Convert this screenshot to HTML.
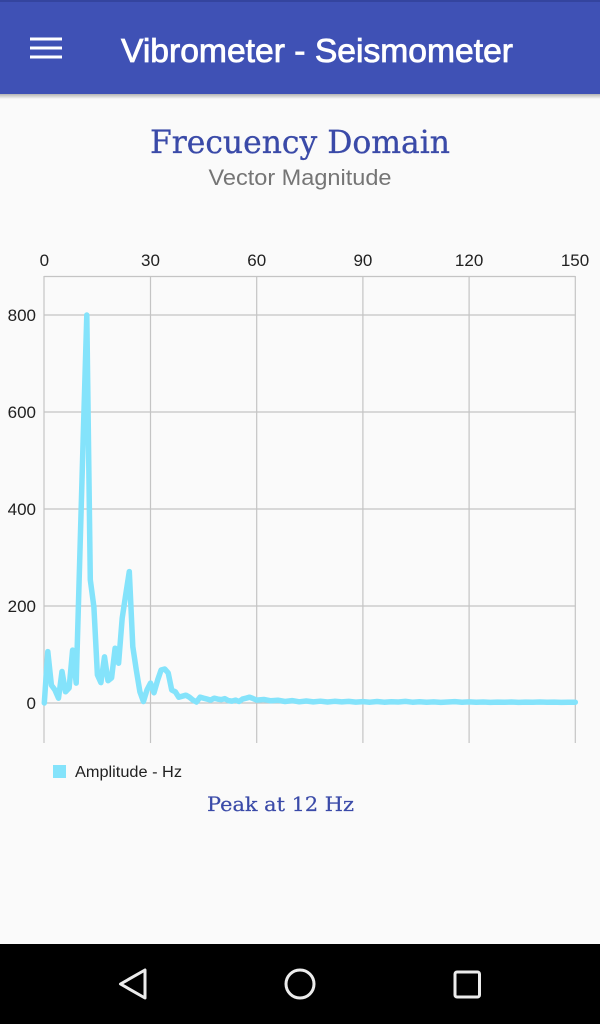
<!DOCTYPE html>
<html>
<head>
<meta charset="utf-8">
<style>
html,body{margin:0;padding:0;width:600px;height:1024px;overflow:hidden;background:#fafafa;}
svg{display:block;}
</style>
</head>
<body>
<svg width="600" height="1024" viewBox="0 0 600 1024" xmlns="http://www.w3.org/2000/svg">
  <defs>
    <linearGradient id="sh" x1="0" y1="0" x2="0" y2="1">
      <stop offset="0" stop-color="#000" stop-opacity="0.28"/>
      <stop offset="1" stop-color="#000" stop-opacity="0"/>
    </linearGradient>
  </defs>
  <rect x="0" y="0" width="600" height="1024" fill="#fafafa"/>
  <!-- App bar -->
  <rect x="0" y="94" width="600" height="5" fill="url(#sh)"/>
  <rect x="0" y="0" width="600" height="94" fill="#3f51b5"/>
  <rect x="0" y="0" width="600" height="2" fill="#34449e"/>
  <rect x="30" y="37.5" width="32" height="3" fill="#ffffff"/>
  <rect x="30" y="46.5" width="32" height="3" fill="#ffffff"/>
  <rect x="30" y="55.5" width="32" height="3" fill="#ffffff"/>
  <text x="121" y="62" font-family="Liberation Sans, sans-serif" font-size="33.5" fill="#ffffff" stroke="#ffffff" stroke-width="0.8" textLength="392" lengthAdjust="spacingAndGlyphs">Vibrometer - Seismometer</text>

  <!-- Titles -->
  <text x="300" y="153" text-anchor="middle" font-family="DejaVu Serif, Liberation Serif, serif" font-size="32" fill="#3a4aa8" stroke="#3a4aa8" stroke-width="0.3" textLength="300" lengthAdjust="spacingAndGlyphs">Frecuency Domain</text>
  <text x="300" y="185" text-anchor="middle" font-family="Liberation Sans, sans-serif" font-size="22" fill="#757575" textLength="183" lengthAdjust="spacingAndGlyphs">Vector Magnitude</text>

  <!-- Grid -->
  <g stroke="#c4c4c4" stroke-width="1.2" fill="none">
    <line x1="44" y1="276" x2="44" y2="743"/>
    <line x1="150.5" y1="276" x2="150.5" y2="743"/>
    <line x1="256.7" y1="276" x2="256.7" y2="743"/>
    <line x1="362.9" y1="276" x2="362.9" y2="743"/>
    <line x1="469.1" y1="276" x2="469.1" y2="743"/>
    <line x1="575.3" y1="276" x2="575.3" y2="743"/>
    <line x1="44" y1="276.5" x2="575.3" y2="276.5"/>
    <line x1="44" y1="315" x2="575.3" y2="315"/>
    <line x1="44" y1="412" x2="575.3" y2="412"/>
    <line x1="44" y1="509" x2="575.3" y2="509"/>
    <line x1="44" y1="606" x2="575.3" y2="606"/>
    <line x1="44" y1="703" x2="575.3" y2="703"/>
  </g>

  <!-- Tick labels -->
  <g font-family="Liberation Sans, sans-serif" font-size="17" fill="#212121">
    <text x="44.3" y="266" text-anchor="middle">0</text>
    <text x="150.5" y="266" text-anchor="middle">30</text>
    <text x="256.7" y="266" text-anchor="middle">60</text>
    <text x="362.9" y="266" text-anchor="middle">90</text>
    <text x="469.1" y="266" text-anchor="middle">120</text>
    <text x="575" y="266" text-anchor="middle">150</text>
    <text x="36" y="321" text-anchor="end">800</text>
    <text x="36" y="418" text-anchor="end">600</text>
    <text x="36" y="515" text-anchor="end">400</text>
    <text x="36" y="612" text-anchor="end">200</text>
    <text x="36" y="709" text-anchor="end">0</text>
  </g>

  <!-- Series -->
  <polyline fill="none" stroke="#84e3fb" stroke-width="5.5" stroke-linejoin="round" stroke-linecap="round"
    points="44.3,703 47.8,651.6 51.4,685.1 54.9,689.9 58.5,698.2 62.0,671.5 65.5,691.8 69.1,688.0 72.6,650.1 76.2,683.1 79.7,560.4 83.2,437.7 86.8,315 90.3,579.8 93.9,607.0 97.4,674.9 100.9,682.6 104.5,656.9 108.0,680.7 111.6,677.8 115.1,648.2 118.6,663.2 122.2,618.1 125.7,594.8 129.3,571.6 132.8,646.7 136.3,670.0 139.9,691.8 143.4,701.5 147.0,689.9 150.5,683.1 154.0,692.8 157.6,680.2 161.1,670.0 164.7,669.0 168.2,672.9 171.7,689.9 175.3,691.8 178.8,697.2 182.4,696.2 185.9,695.2 189.4,697.2 193.0,700.1 196.5,702.0 200.1,697.2 203.6,698.2 207.1,699.1 210.7,700.1 214.2,698.2 217.8,699.1 221.3,699.6 224.8,698.6 228.4,700.6 231.9,701.1 235.5,700.1 239.0,701.5 242.5,699.1 246.1,698.2 249.6,697.2 253.2,698.6 256.7,700.1 263.8,699.5 270.9,700.8 277.9,700.2 285.0,701.5 292.1,700.6 299.2,701.8 306.3,701.0 313.3,701.9 320.4,701.2 327.5,702.0 334.6,701.3 341.7,701.9 348.7,701.4 355.8,702.1 362.9,701.6 370.0,702.2 377.1,701.5 384.1,702.2 391.2,701.7 398.3,702.0 405.4,701.4 412.5,702.2 419.5,701.8 426.6,702.3 433.7,701.9 440.8,702.4 447.9,702.0 454.9,701.6 462.0,702.2 469.1,701.9 476.2,702.3 483.3,702.0 490.3,702.4 497.4,702.1 504.5,702.3 511.6,702.0 518.7,702.4 525.7,702.1 532.8,702.3 539.9,702.0 547.0,702.3 554.1,702.1 561.1,702.4 568.2,702.2 575.3,702.2"/>

  <!-- Legend -->
  <rect x="53" y="765" width="13" height="13" fill="#84e3fb"/>
  <text x="75" y="777" font-family="Liberation Sans, sans-serif" font-size="15.5" fill="#212121" textLength="107" lengthAdjust="spacingAndGlyphs">Amplitude - Hz</text>

  <text x="207" y="811" font-family="DejaVu Serif, Liberation Serif, serif" font-size="19.5" fill="#3a4aa8" stroke="#3a4aa8" stroke-width="0.2" textLength="147" lengthAdjust="spacingAndGlyphs">Peak at 12 Hz</text>

  <!-- Nav bar -->
  <rect x="0" y="944" width="600" height="80" fill="#000000"/>
  <g fill="none" stroke="#ececec" stroke-width="3" stroke-linejoin="round" stroke-linecap="round">
    <path d="M120.5,984 L145,970 L145,998 Z"/>
    <circle cx="300" cy="984" r="14"/>
    <rect x="455" y="972" width="24.5" height="25" rx="2"/>
  </g>
</svg>
</body>
</html>
